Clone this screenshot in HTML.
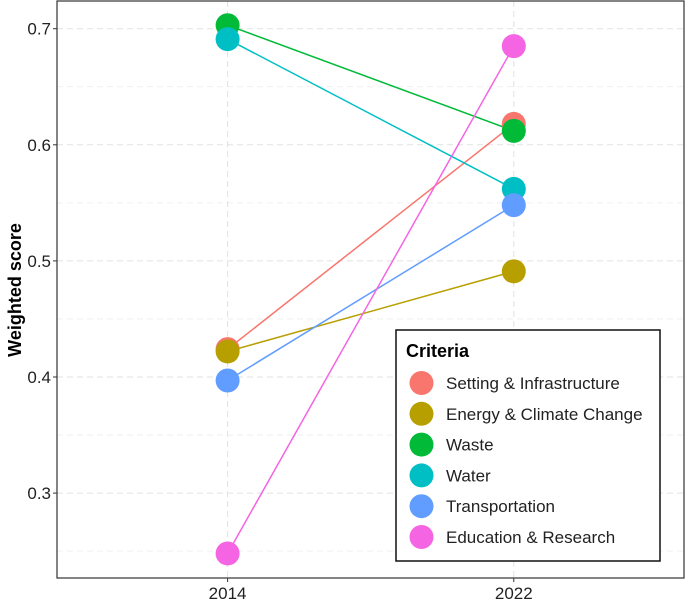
<!DOCTYPE html>
<html><head><meta charset="utf-8"><style>
body{margin:0;background:#fff}
svg text{font-family:"Liberation Sans",Arial,sans-serif}
</style></head><body>
<svg id="chart" width="685" height="601" xmlns="http://www.w3.org/2000/svg">
<g id="grid"></g><g id="lines"></g><g id="points"></g><g id="axes"></g>
<g id="legend"></g>
</svg>
<script>
const years = ["2014","2022"];
const criteria = ["Setting & Infrastructure","Energy & Climate Change","Waste","Water","Transportation","Education & Research"];
const colors = ["#F8766D","#B79F00","#00BA38","#00BFC4","#619CFF","#F564E3"];
const values2014 = [0.424,0.422,0.703,0.691,0.397,0.248];
const values2022 = [0.618,0.491,0.612,0.562,0.548,0.685];
const yTicks = [0.3,0.4,0.5,0.6,0.7];
const yMinor = [0.25,0.35,0.45,0.55,0.65];
const NS="http://www.w3.org/2000/svg";
const L=57,R=684,T=1,B=578;
const y=v=>28.7+(0.7-v)*1161;
const x=i=>227.6+i*286.2;
function mk(tag,attrs,parent){const e=document.createElementNS(NS,tag);for(const k in attrs)e.setAttribute(k,attrs[k]);parent.appendChild(e);return e;}
const g=document.getElementById('grid');
yMinor.forEach(v=>{const l=mk('line',{x1:L,x2:R,y1:y(v),y2:y(v),stroke:'#ececec','stroke-width':0.8,'stroke-dasharray':'6,4'},g);

});
yTicks.forEach(v=>{const l=mk('line',{x1:L,x2:R,y1:y(v),y2:y(v),stroke:'#e2e2e2','stroke-width':1,'stroke-dasharray':'6,4'},g);

});
years.forEach((yr,i)=>{const l=mk('line',{x1:x(i),x2:x(i),y1:T,y2:B,stroke:'#e2e2e2','stroke-width':1,'stroke-dasharray':'6,4'},g);

});
const lg=document.getElementById('lines'),pg=document.getElementById('points');
criteria.forEach((c,k)=>{
 const l=mk('line',{x1:x(0),y1:y(values2014[k]),x2:x(1),y2:y(values2022[k]),stroke:colors[k],'stroke-width':1.5},lg);
 
 
});
criteria.forEach((c,k)=>{
 [values2014[k],values2022[k]].forEach((v,i)=>{
  const p=mk('circle',{cx:x(i),cy:y(v),r:12,fill:colors[k]},pg);
  
  
 });
});
const ax=document.getElementById('axes');
const fr=mk('rect',{x:L,y:T,width:R-L,height:B-T,fill:'none',stroke:'#333','stroke-width':1.2},ax);


yTicks.forEach(v=>{
 const t=mk('line',{x1:L-4,x2:L,y1:y(v),y2:y(v),stroke:'#333'},ax);
 
 
 const tx=mk('text',{x:L-6,y:y(v)+6,'text-anchor':'end','font-size':17,fill:'#222'},ax);
 tx.textContent=v.toFixed(1);
 
 
});
years.forEach((yr,i)=>{
 const t=mk('line',{x1:x(i),x2:x(i),y1:B,y2:B+4,stroke:'#333'},ax);
 
 
 const tx=mk('text',{x:x(i),y:B+21,'text-anchor':'middle','font-size':17,fill:'#222'},ax);
 tx.textContent=yr;
 
 
});
const yt=mk('text',{x:0,y:0,transform:'translate(21,290) rotate(-90)','text-anchor':'middle','font-size':18,'font-weight':'bold',fill:'#000'},ax);
yt.textContent='Weighted score';


const le=document.getElementById('legend');
const lb=mk('rect',{x:396,y:330,width:264,height:231,fill:'#fff',stroke:'#111','stroke-width':1.5},le);


const lt=mk('text',{x:406,y:357,'font-size':18,'font-weight':'bold',fill:'#000'},le);
lt.textContent='Criteria';


criteria.forEach((c,k)=>{
 const cy=383+k*30.8;
 const cc=mk('circle',{cx:421.5,cy:cy,r:12,fill:colors[k]},le);
 
 
 const tx=mk('text',{x:446,y:cy+6,'font-size':17,fill:'#222'},le);
 tx.textContent=c;
 
 
});
</script>
</body></html>
